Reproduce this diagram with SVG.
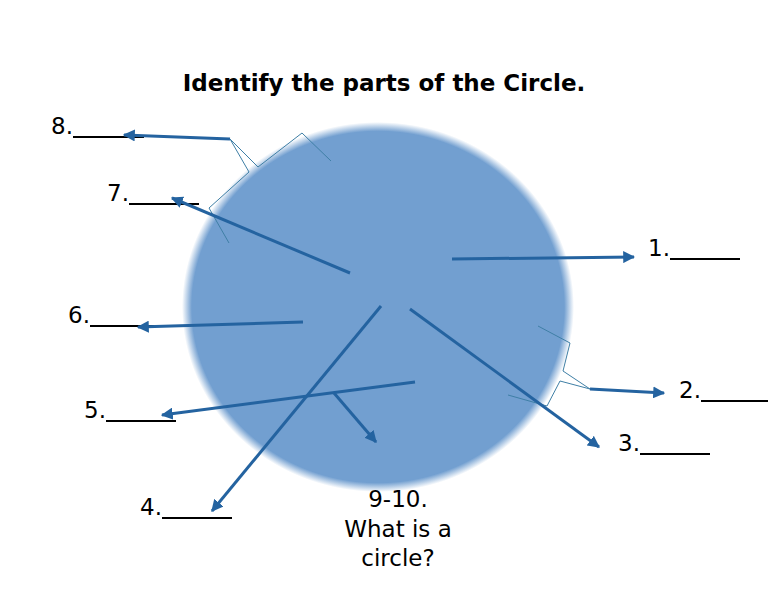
<svg xmlns="http://www.w3.org/2000/svg" width="768" height="594" viewBox="0 0 768 594">
<defs>
<radialGradient id="disc" cx="0.5" cy="0.5" r="0.5">
<stop offset="0" stop-color="#729fd0"/>
<stop offset="0.95" stop-color="#729fd0"/>
<stop offset="1" stop-color="#729fd0" stop-opacity="0"/>
</radialGradient>
<marker id="ah" viewBox="0 0 10 10" refX="9" refY="5" markerWidth="4" markerHeight="4" orient="auto" markerUnits="strokeWidth">
<path d="M0,0 L10,5 L0,10 z" fill="#2463a0"/>
</marker>
<style>
.t{font-family:"DejaVu Sans",sans-serif;font-size:23px;fill:#000}
.title{font-family:"DejaVu Sans",sans-serif;font-size:23px;font-weight:bold;fill:#000}
.ul{stroke:#000;stroke-width:2}
.ar{stroke:#2463a0;stroke-width:3;fill:none;marker-end:url(#ah)}
.br{stroke:#3f7fa6;stroke-width:1;fill:none}
</style>
</defs>
<rect width="768" height="594" fill="#fff"/>
<g id="circle">
<ellipse cx="378" cy="307" rx="196" ry="185" fill="url(#disc)"/>
</g>
<g id="title">
<text class="title" x="384" y="91" text-anchor="middle">Identify the parts of the Circle.</text>
</g>
<g id="braces">
<polyline class="br" points="331,161 302,133 258,167 230,139"/>
<polyline class="br" points="230,139 249,172 209,208 229,243"/>
<polyline class="br" points="538,326 570,343 563,371 590,389"/>
<polyline class="br" points="590,389 560,381 547,406 508,395"/>
</g>
<g id="label-1"><text class="t" x="648" y="256">1.</text><line class="ul" x1="670" y1="259" x2="740" y2="259"/></g>
<g id="label-2"><text class="t" x="679" y="398">2.</text><line class="ul" x1="701" y1="401" x2="768" y2="401"/></g>
<g id="label-3"><text class="t" x="618" y="451">3.</text><line class="ul" x1="640" y1="454" x2="710" y2="454"/></g>
<g id="label-4"><text class="t" x="140" y="515">4.</text><line class="ul" x1="162" y1="518" x2="232" y2="518"/></g>
<g id="label-5"><text class="t" x="84" y="418">5.</text><line class="ul" x1="106" y1="421" x2="176" y2="421"/></g>
<g id="label-6"><text class="t" x="68" y="323">6.</text><line class="ul" x1="90" y1="326" x2="160" y2="326"/></g>
<g id="label-7"><text class="t" x="107" y="201">7.</text><line class="ul" x1="129" y1="204" x2="199" y2="204"/></g>
<g id="label-8"><text class="t" x="51" y="134">8.</text><line class="ul" x1="73" y1="137" x2="144" y2="137"/></g>
<g id="label-9-10">
<text class="t" x="398" y="507" text-anchor="middle">9-10.</text>
<text class="t" x="398" y="537" text-anchor="middle">What is a</text>
<text class="t" x="398" y="566" text-anchor="middle">circle?</text>
</g>
<g id="connectors">
<line class="ar" x1="452" y1="259" x2="634" y2="257"/>
<line class="ar" x1="590" y1="389" x2="664" y2="393"/>
<line class="ar" x1="410" y1="309" x2="599" y2="447"/>
<line class="ar" x1="381" y1="306" x2="212" y2="511"/>
<line class="ar" x1="415" y1="382" x2="162" y2="415"/>
<line class="ar" x1="334" y1="393" x2="376" y2="442"/>
<line class="ar" x1="303" y1="322" x2="138" y2="327"/>
<line class="ar" x1="350" y1="273" x2="172" y2="198"/>
<line class="ar" x1="230" y1="139" x2="124" y2="135"/>
</g>
</svg>
